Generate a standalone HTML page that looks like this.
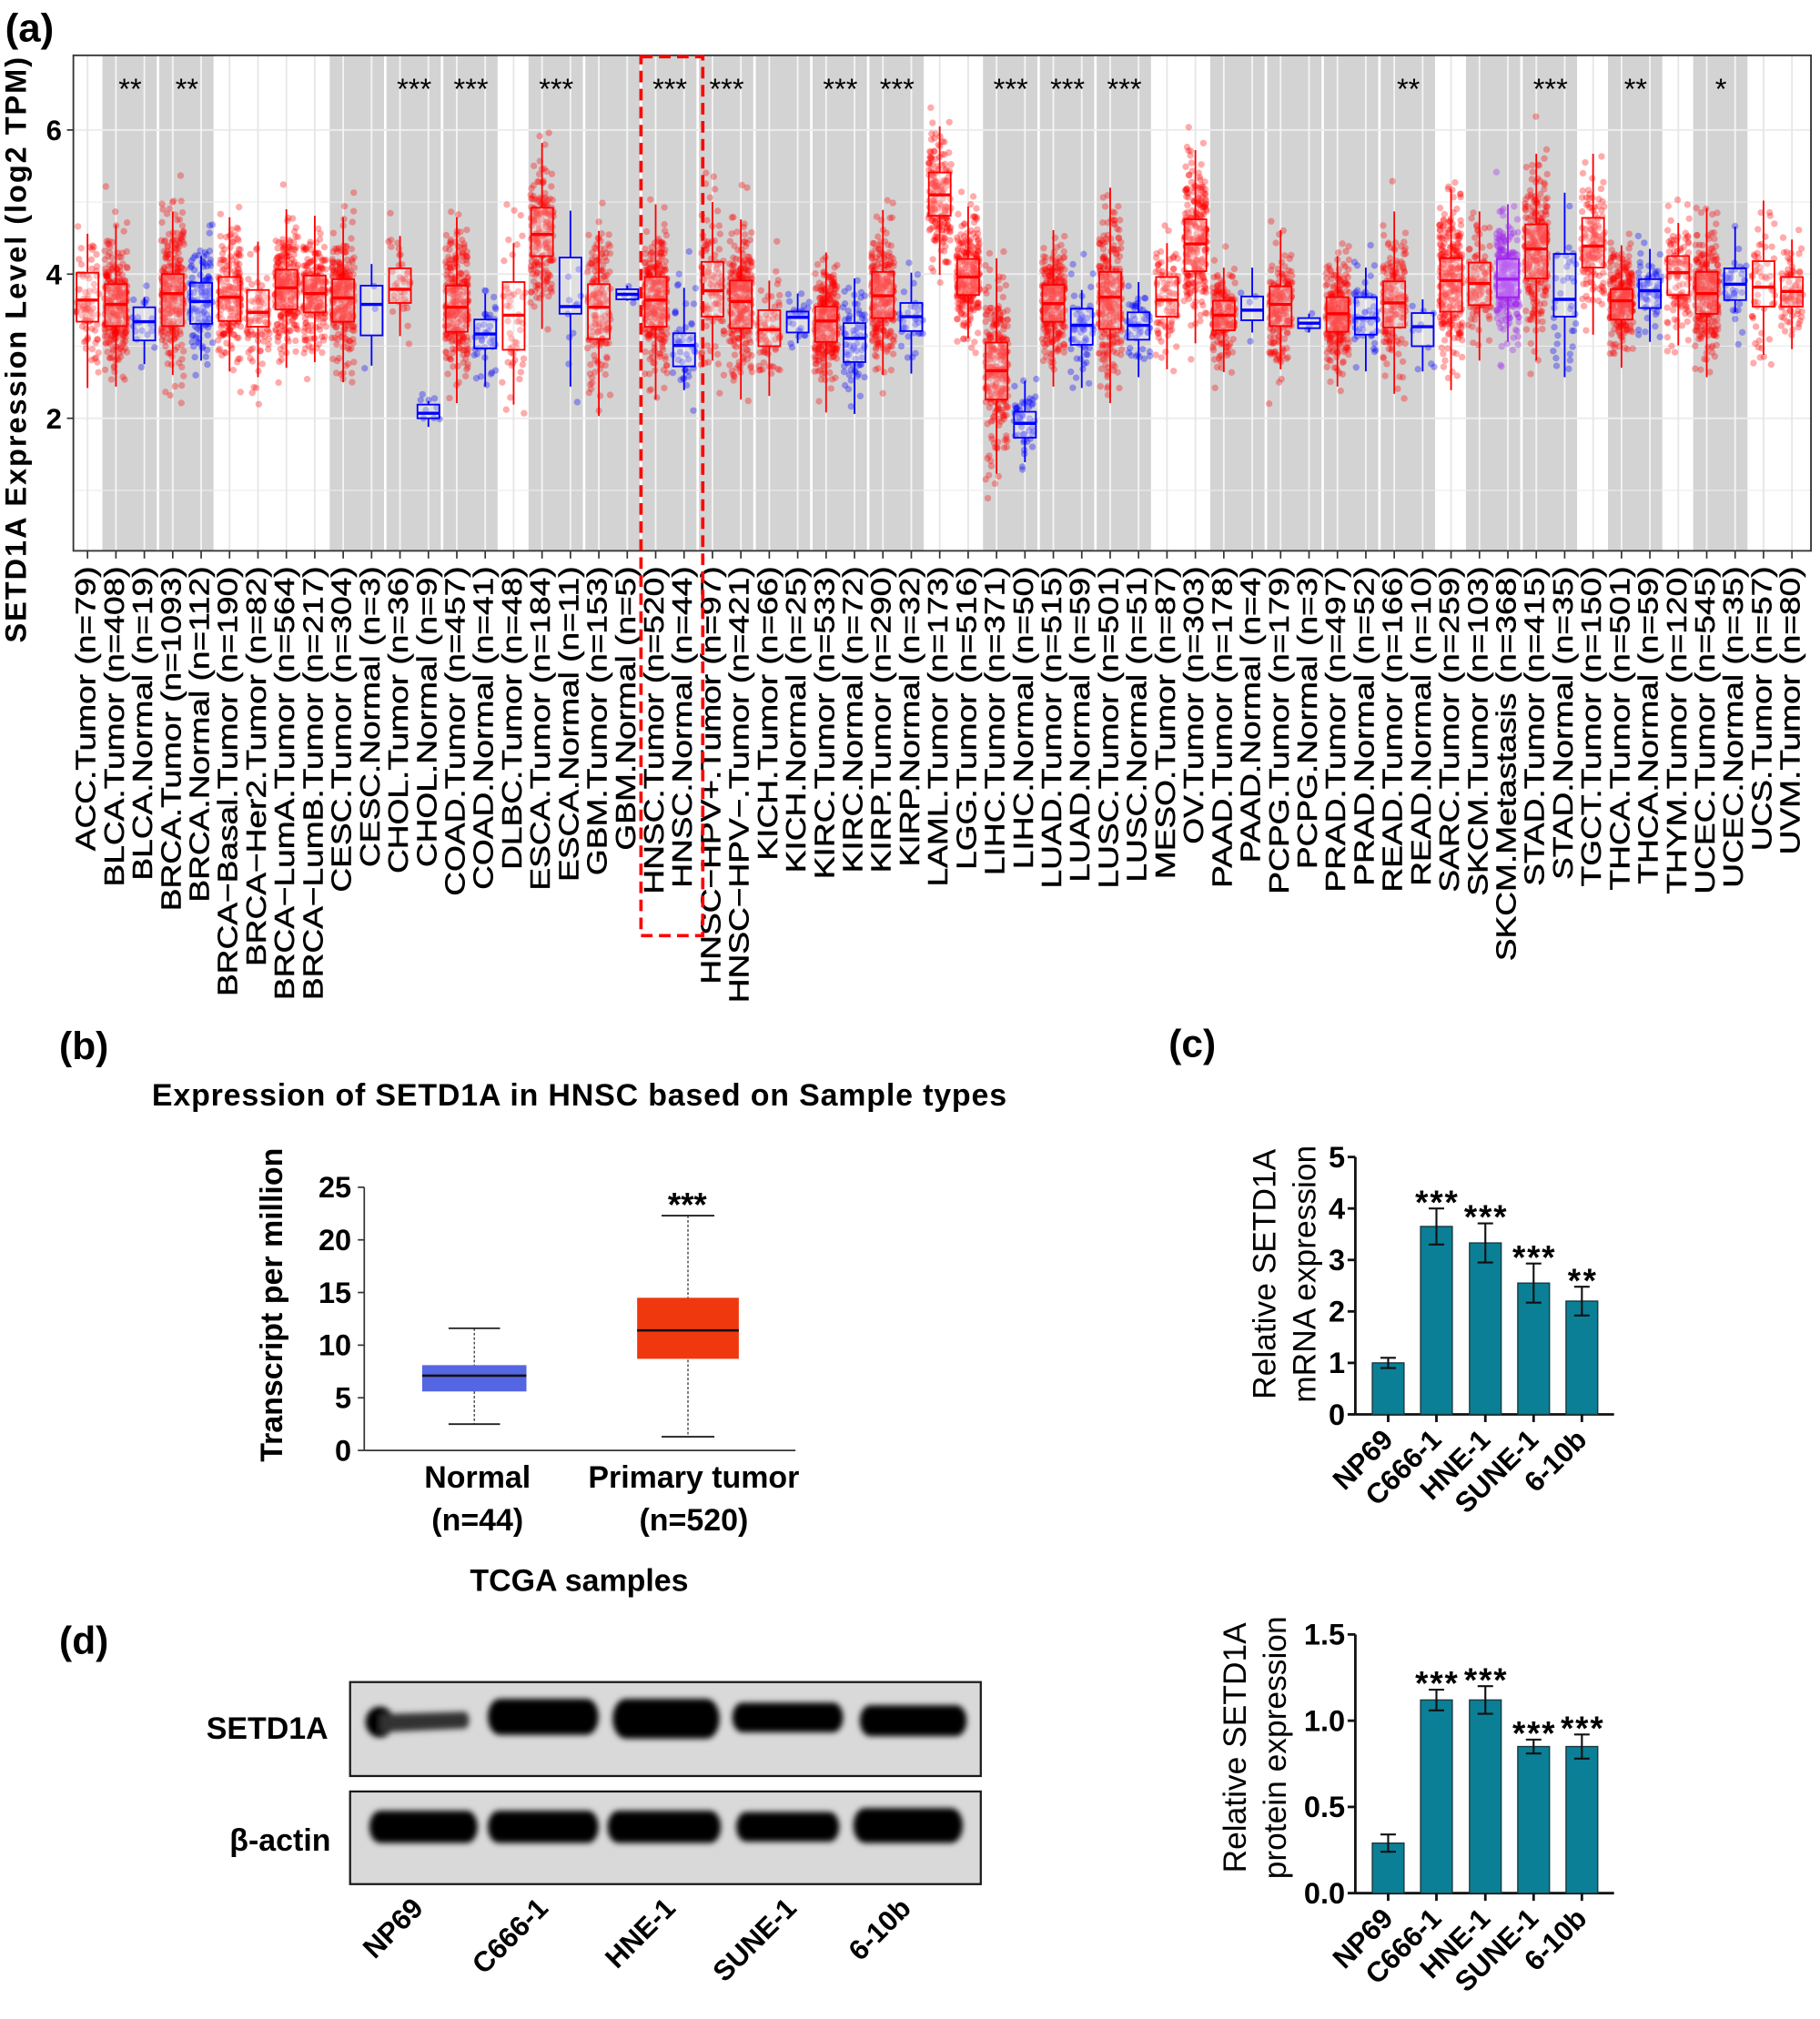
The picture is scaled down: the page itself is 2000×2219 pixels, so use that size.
<!DOCTYPE html>
<html><head><meta charset="utf-8"><style>
html,body{margin:0;padding:0;background:#fff;}
svg{display:block;}
text{font-family:"Liberation Sans",Arial,sans-serif;}
</style></head><body>
<svg id="s" xmlns="http://www.w3.org/2000/svg" width="2000" height="2219" viewBox="0 0 1414 1568.8" preserveAspectRatio="none">
<defs>
<filter id="bl" x="-20%" y="-50%" width="140%" height="200%"><feGaussianBlur stdDeviation="2.2"/></filter>
<clipPath id="pc"><rect x="57" y="43" width="1350" height="385"/></clipPath>
</defs>
<g id="pa"></g>
<g id="pb"></g>
<g id="pcg"></g>
<g id="pd"></g>
</svg>
<script>
var NS="http://www.w3.org/2000/svg";
function el(p,t,a,txt){var e=document.createElementNS(NS,t);for(var k in a)e.setAttribute(k,a[k]);if(txt!==undefined)e.textContent=txt;p.appendChild(e);return e;}
var seed=12345;function rnd(){seed=(seed*1103515245+12345)%2147483648;return seed/2147483648;}
function gauss(){var u=rnd()||1e-6,v=rnd();return Math.sqrt(-2*Math.log(u))*Math.cos(2*Math.PI*v);}
var D=[
["ACC.Tumor (n=79)",79,"t",3.64,3.34,4.02,2.42,4.56],
["BLCA.Tumor (n=408)",408,"t",3.58,3.28,3.86,2.44,4.69],
["BLCA.Normal (n=19)",19,"n",3.34,3.08,3.54,2.75,3.68],
["BRCA.Tumor (n=1093)",1093,"t",3.73,3.28,4.0,2.6,4.87],
["BRCA.Normal (n=112)",112,"n",3.62,3.31,3.88,2.8,4.25],
["BRCA\u2212Basal.Tumor (n=190)",190,"t",3.68,3.35,3.96,2.65,4.79],
["BRCA\u2212Her2.Tumor (n=82)",82,"t",3.47,3.27,3.78,2.57,4.45],
["BRCA\u2212LumA.Tumor (n=564)",564,"t",3.81,3.51,4.06,2.7,4.9],
["BRCA\u2212LumB.Tumor (n=217)",217,"t",3.73,3.47,3.98,2.78,4.81],
["CESC.Tumor (n=304)",304,"t",3.67,3.34,3.93,2.5,4.79],
["CESC.Normal (n=3)",3,"n",3.58,3.15,3.84,2.73,4.14],
["CHOL.Tumor (n=36)",36,"t",3.79,3.6,4.08,3.14,4.53],
["CHOL.Normal (n=9)",9,"n",2.07,2.0,2.19,1.88,2.24],
["COAD.Tumor (n=457)",457,"t",3.54,3.2,3.84,2.21,4.79],
["COAD.Normal (n=41)",41,"n",3.17,2.97,3.37,2.44,3.73],
["DLBC.Tumor (n=48)",48,"t",3.43,2.95,3.89,2.19,4.43],
["ESCA.Tumor (n=184)",184,"t",4.55,4.25,4.92,3.24,5.82],
["ESCA.Normal (n=11)",11,"n",3.55,3.45,4.23,2.44,4.88],
["GBM.Tumor (n=153)",153,"t",3.54,3.1,3.86,2.03,4.6],
["GBM.Normal (n=5)",5,"n",3.72,3.65,3.79,3.63,3.84],
["HNSC.Tumor (n=520)",520,"t",3.64,3.27,3.96,2.26,4.97],
["HNSC.Normal (n=44)",44,"n",3.01,2.72,3.18,2.39,3.81],
["HNSC\u2212HPV+.Tumor (n=97)",97,"t",3.77,3.41,4.17,2.8,5.0],
["HNSC\u2212HPV\u2212.Tumor (n=421)",421,"t",3.62,3.25,3.91,2.26,4.76],
["KICH.Tumor (n=66)",66,"t",3.23,3.0,3.5,2.31,3.91],
["KICH.Normal (n=25)",25,"n",3.4,3.19,3.48,3.04,3.73],
["KIRC.Tumor (n=533)",533,"t",3.35,3.06,3.55,2.08,4.3],
["KIRC.Normal (n=72)",72,"n",3.11,2.78,3.32,2.06,3.94],
["KIRP.Tumor (n=290)",290,"t",3.7,3.39,4.03,2.6,4.89],
["KIRP.Normal (n=32)",32,"n",3.41,3.21,3.6,2.62,4.02],
["LAML.Tumor (n=173)",173,"t",5.1,4.81,5.41,3.99,6.05],
["LGG.Tumor (n=516)",516,"t",3.96,3.71,4.21,3.11,4.94],
["LIHC.Tumor (n=371)",371,"t",2.66,2.26,3.05,1.23,4.22],
["LIHC.Normal (n=50)",50,"n",1.93,1.73,2.09,1.39,2.52],
["LUAD.Tumor (n=515)",515,"t",3.59,3.34,3.85,2.44,4.61],
["LUAD.Normal (n=59)",59,"n",3.29,3.02,3.52,2.42,3.78],
["LUSC.Tumor (n=501)",501,"t",3.68,3.24,4.03,2.21,5.2],
["LUSC.Normal (n=51)",51,"n",3.29,3.09,3.47,2.57,3.89],
["MESO.Tumor (n=87)",87,"t",3.64,3.41,3.96,2.68,4.43],
["OV.Tumor (n=303)",303,"t",4.42,4.04,4.76,3.04,5.72],
["PAAD.Tumor (n=178)",178,"t",3.43,3.22,3.63,2.64,4.09],
["PAAD.Normal (n=4)",4,"n",3.5,3.36,3.69,3.19,4.09],
["PCPG.Tumor (n=179)",179,"t",3.58,3.28,3.83,2.68,4.61],
["PCPG.Normal (n=3)",3,"n",3.32,3.25,3.39,3.19,3.45],
["PRAD.Tumor (n=497)",497,"t",3.45,3.2,3.68,2.44,4.25],
["PRAD.Normal (n=52)",52,"n",3.39,3.16,3.68,2.65,4.09],
["READ.Tumor (n=166)",166,"t",3.6,3.26,3.9,2.34,4.87],
["READ.Normal (n=10)",10,"n",3.27,3.0,3.46,2.65,3.65],
["SARC.Tumor (n=259)",259,"t",3.91,3.48,4.22,2.39,5.18],
["SKCM.Tumor (n=103)",103,"t",3.87,3.57,4.16,2.8,4.87],
["SKCM.Metastasis (n=368)",368,"m",3.93,3.68,4.21,3.06,4.97],
["STAD.Tumor (n=415)",415,"t",4.35,3.94,4.69,2.8,5.67],
["STAD.Normal (n=35)",35,"n",3.65,3.41,4.28,2.57,5.13],
["TGCT.Tumor (n=150)",150,"t",4.39,4.09,4.78,3.16,5.67],
["THCA.Tumor (n=501)",501,"t",3.63,3.37,3.79,2.7,4.4],
["THCA.Normal (n=59)",59,"n",3.77,3.53,3.93,3.06,4.35],
["THYM.Tumor (n=120)",120,"t",4.02,3.71,4.25,3.01,4.71],
["UCEC.Tumor (n=545)",545,"t",3.73,3.45,4.03,2.57,4.92],
["UCEC.Normal (n=35)",35,"n",3.86,3.64,4.08,3.47,4.66],
["UCS.Tumor (n=57)",57,"t",3.82,3.55,4.18,2.88,5.02],
["UVM.Tumor (n=80)",80,"t",3.76,3.55,3.96,2.96,4.48]];
var pa=document.getElementById("pa");
function X(i){return 68+i*22.07;}
function Y(v){return 437-56*v;}
el(pa,"rect",{x:57,y:43,width:1350,height:385,fill:"#fff"});
var bands=[1,3,9,11,13,16,18,20,22,24,26,28,32,34,36,40,42,44,46,49,51,54,57];
bands.forEach(function(c){el(pa,"rect",{x:X(c)-10.5,y:43,width:42.2,height:385,fill:"#d3d3d3"});});
var isBand={};bands.forEach(function(c){isBand[c]=1;isBand[c+1]=1;});
for(var v=1;v<=6;v++)el(pa,"line",{x1:57,x2:1407,y1:Y(v),y2:Y(v),stroke:"#ececec","stroke-width":v%2?0.8:1.4});
for(var i=0;i<61;i++)el(pa,"line",{x1:X(i),x2:X(i),y1:43,y2:428,stroke:isBand[i]?"#f4f4f4":"#e6e6e6","stroke-width":1.3});
var g=el(pa,"g",{"clip-path":"url(#pc)"});
D.forEach(function(d,i){
 var col=d[2]=="t"?"255,0,0":(d[2]=="n"?"0,0,255":"160,32,240");
 var cnt=Math.min(d[1],260);var sd=(d[5]-d[4])/1.35;
 for(var k=0;k<cnt;k++){var y=d[3]+gauss()*sd;if(y<d[6]-0.5)y=d[6]-0.5*rnd();if(y>d[7]+0.6)y=d[7]+0.6*rnd();
  el(g,"circle",{cx:X(i)+(rnd()*2-1)*9,cy:Y(y),r:2.6,fill:"rgba("+col+",0.33)"});}
 var sc="rgb("+col+")";
 el(g,"line",{x1:X(i),x2:X(i),y1:Y(d[7]),y2:Y(d[5]),stroke:sc,"stroke-width":1.3});
 el(g,"line",{x1:X(i),x2:X(i),y1:Y(d[4]),y2:Y(d[6]),stroke:sc,"stroke-width":1.3});
 el(g,"rect",{x:X(i)-8.5,y:Y(d[5]),width:17,height:Y(d[4])-Y(d[5]),fill:"rgba(255,255,255,0.28)",stroke:sc,"stroke-width":1.3});
 el(g,"line",{x1:X(i)-8.5,x2:X(i)+8.5,y1:Y(d[3]),y2:Y(d[3]),stroke:sc,"stroke-width":2.4});
 el(pa,"line",{x1:X(i),x2:X(i),y1:428,y2:434,stroke:"#333","stroke-width":1.2});
 el(pa,"text",{transform:"translate("+(X(i)+6)+",440) rotate(-90) scale(1.22,1)","text-anchor":"end","font-size":21.5,fill:"#000",stroke:"#000","stroke-width":0.35},d[0]);
});
el(pa,"rect",{x:57,y:43,width:1350,height:385,fill:"none",stroke:"#333","stroke-width":1.3});
var stars={1:"**",3:"**",11:"***",13:"***",16:"***",20:"***",22:"***",26:"***",28:"***",32:"***",34:"***",36:"***",46:"**",51:"***",54:"**",57:"*"};
for(var c in stars)el(pa,"text",{x:X(+c)+11,y:77,"text-anchor":"middle","font-size":23,fill:"#000"},stars[c]);
[2,4,6].forEach(function(v){el(pa,"line",{x1:52,x2:57,y1:Y(v),y2:Y(v),stroke:"#333","stroke-width":1.2});el(pa,"text",{x:48,y:Y(v)+8,"text-anchor":"end","font-size":22,"font-weight":"bold"},v);});
el(pa,"text",{transform:"translate(20,272) rotate(-90)","text-anchor":"middle","font-size":23,"font-weight":"bold",textLength:455},"SETD1A Expression Level (log2 TPM)");
el(pa,"text",{x:4,y:32,"font-size":31,"font-weight":"bold"},"(a)");
el(pa,"rect",{x:498,y:44,width:48,height:683,fill:"none",stroke:"#f00","stroke-width":2.6,"stroke-dasharray":"9,5"});
// ---------- Panel B ----------
var pb=document.getElementById("pb");
function YB(v){return 1127-8.18*v;}
el(pb,"text",{x:46,y:823,"font-size":30,"font-weight":"bold"},"(b)");
el(pb,"text",{x:118,y:859,"font-size":24,"font-weight":"bold",textLength:664},"Expression of SETD1A in HNSC based on Sample types");
el(pb,"line",{x1:283,x2:283,y1:YB(25),y2:1127,stroke:"#333","stroke-width":1.2});
el(pb,"line",{x1:283,x2:618,y1:1127,y2:1127,stroke:"#333","stroke-width":1.2});
[0,5,10,15,20,25].forEach(function(v){el(pb,"line",{x1:278,x2:283,y1:YB(v),y2:YB(v),stroke:"#333","stroke-width":1.2});el(pb,"text",{x:273,y:YB(v)+8,"text-anchor":"end","font-size":23,"font-weight":"bold"},v);});
el(pb,"text",{transform:"translate(219,1014) rotate(-90)","text-anchor":"middle","font-size":24,"font-weight":"bold"},"Transcript per million");
function bbox(cx,w,cap,q1,med,q3,lo,hi,col){
 el(pb,"line",{x1:cx,x2:cx,y1:YB(hi),y2:YB(lo),stroke:"#333","stroke-width":0.9,"stroke-dasharray":"2,1.5"});
 el(pb,"line",{x1:cx-cap,x2:cx+cap,y1:YB(hi),y2:YB(hi),stroke:"#222","stroke-width":1.3});
 el(pb,"line",{x1:cx-cap,x2:cx+cap,y1:YB(lo),y2:YB(lo),stroke:"#222","stroke-width":1.3});
 el(pb,"rect",{x:cx-w/2,y:YB(q3),width:w,height:YB(q1)-YB(q3),fill:col});
 el(pb,"line",{x1:cx-w/2,x2:cx+w/2,y1:YB(med),y2:YB(med),stroke:"#111","stroke-width":1.8});}
bbox(368.5,81,20,5.6,7.1,8.1,2.5,11.6,"#5566e2");
bbox(534.5,79,20.5,8.7,11.4,14.5,1.3,22.3,"#f0380f");
el(pb,"text",{x:534,y:945,"text-anchor":"middle","font-size":26,"font-weight":"bold"},"***");
el(pb,"text",{x:371,y:1156,"text-anchor":"middle","font-size":24,"font-weight":"bold"},"Normal");
el(pb,"text",{x:371,y:1189,"text-anchor":"middle","font-size":24,"font-weight":"bold"},"(n=44)");
el(pb,"text",{x:539,y:1156,"text-anchor":"middle","font-size":24,"font-weight":"bold"},"Primary tumor");
el(pb,"text",{x:539,y:1189,"text-anchor":"middle","font-size":24,"font-weight":"bold"},"(n=520)");
el(pb,"text",{x:450,y:1236,"text-anchor":"middle","font-size":24,"font-weight":"bold"},"TCGA samples");
// ---------- Panel C ----------
var pc=document.getElementById("pcg");
el(pc,"text",{x:908,y:821,"font-size":30,"font-weight":"bold"},"(c)");
var cx=[1078.5,1116,1154,1191.5,1229];var names=["NP69","C666-1","HNE-1","SUNE-1","6-10b"];
function barchart(y0,ppu,ticks,fmt,vals,errs,st,yl1,yl2,ylx,ylc,lbly){
 el(pc,"line",{x1:1053,x2:1053,y1:y0-ppu*ticks[ticks.length-1],y2:y0,stroke:"#111","stroke-width":2});
 el(pc,"line",{x1:1053,x2:1254,y1:y0,y2:y0,stroke:"#111","stroke-width":2});
 ticks.forEach(function(t){var y=y0-ppu*t;el(pc,"line",{x1:1047,x2:1053,y1:y,y2:y,stroke:"#111","stroke-width":2});
  el(pc,"text",{x:1045,y:y+8,"text-anchor":"end","font-size":23,"font-weight":"bold","font-family":"DejaVu Sans, sans-serif"},fmt(t));});
 vals.forEach(function(v,i){var x=cx[i];
  el(pc,"rect",{x:x-12.3,y:y0-ppu*v,width:24.6,height:ppu*v,fill:"#0b7f96",stroke:"#1a3a40","stroke-width":1});
  var e=errs[i];el(pc,"line",{x1:x,x2:x,y1:y0-ppu*(v+e),y2:y0-ppu*(v-e),stroke:"#111","stroke-width":1.5});
  el(pc,"line",{x1:x-6,x2:x+6,y1:y0-ppu*(v+e),y2:y0-ppu*(v+e),stroke:"#111","stroke-width":1.5});
  el(pc,"line",{x1:x-6,x2:x+6,y1:y0-ppu*(v-e),y2:y0-ppu*(v-e),stroke:"#111","stroke-width":1.5});
  el(pc,"line",{x1:x,x2:x,y1:y0,y2:y0+6,stroke:"#111","stroke-width":2});
  if(st[i])el(pc,"text",{x:x,y:y0-ppu*(v+e)+4,"text-anchor":"middle","font-size":26,"font-weight":"bold",textLength:st[i].length*11},st[i]);
  el(pc,"text",{transform:"translate("+(x+5)+","+lbly+") rotate(-45)","text-anchor":"end","font-size":22,"font-weight":"bold"},names[i]);});
 el(pc,"text",{transform:"translate("+ylx+","+ylc+") rotate(-90)","text-anchor":"middle","font-size":25},yl1);
 el(pc,"text",{transform:"translate("+(ylx+31)+","+ylc+") rotate(-90)","text-anchor":"middle","font-size":25},yl2);}
barchart(1099,40,[0,1,2,3,4,5],function(t){return t;},[1.0,3.65,3.33,2.55,2.2],[0.1,0.35,0.38,0.38,0.28],["","***","***","***","**"],"Relative SETD1A","mRNA expression",991,990,1120);
barchart(1471,134,[0,0.5,1,1.5],function(t){return t.toFixed(1);},[0.29,1.12,1.12,0.85,0.85],[0.05,0.06,0.08,0.04,0.07],["","***","***","***","***"],"Relative SETD1A","protein expression",968,1358,1492);
// ---------- Panel D ----------
var pd=document.getElementById("pd");
el(pd,"text",{x:46,y:1285,"font-size":30,"font-weight":"bold"},"(d)");
el(pd,"rect",{x:272,y:1307,width:490,height:73,fill:"#d9d9d9",stroke:"#1a1a1a","stroke-width":1.6});
el(pd,"rect",{x:272,y:1392,width:490,height:72,fill:"#d9d9d9",stroke:"#1a1a1a","stroke-width":1.6});
var bg=el(pd,"g",{filter:"url(#bl)",fill:"#050505"});
el(bg,"ellipse",{cx:295,cy:1338,rx:11,ry:12});
el(bg,"path",{d:"M295 1332 L362 1330 Q367 1337 362 1343 L295 1346 Z",fill:"#333"});
[[379,465,1320,1348],[476,559,1320,1351],[569,655,1323,1346],[668,751,1325,1349],
 [287,371,1407,1432],[379,465,1407,1432],[472,560,1407,1432],[572,652,1408,1431],[663,748,1405,1432]].forEach(function(b){
 var h=b[3]-b[2];el(bg,"rect",{x:b[0],y:b[2],width:b[1]-b[0],height:h,rx:h/3,ry:h/2});});
el(pd,"text",{x:255,y:1351,"text-anchor":"end","font-size":24,"font-weight":"bold"},"SETD1A");
el(pd,"text",{x:257,y:1438,"text-anchor":"end","font-size":24,"font-weight":"bold"},"\u03b2-actin");
[[330,"NP69"],[427,"C666-1"],[526,"HNE-1"],[620,"SUNE-1"],[709,"6-10b"]].forEach(function(l){
 el(pd,"text",{transform:"translate("+l[0]+",1484) rotate(-45)","text-anchor":"end","font-size":22,"font-weight":"bold"},l[1]);});
</script>
</body></html>
